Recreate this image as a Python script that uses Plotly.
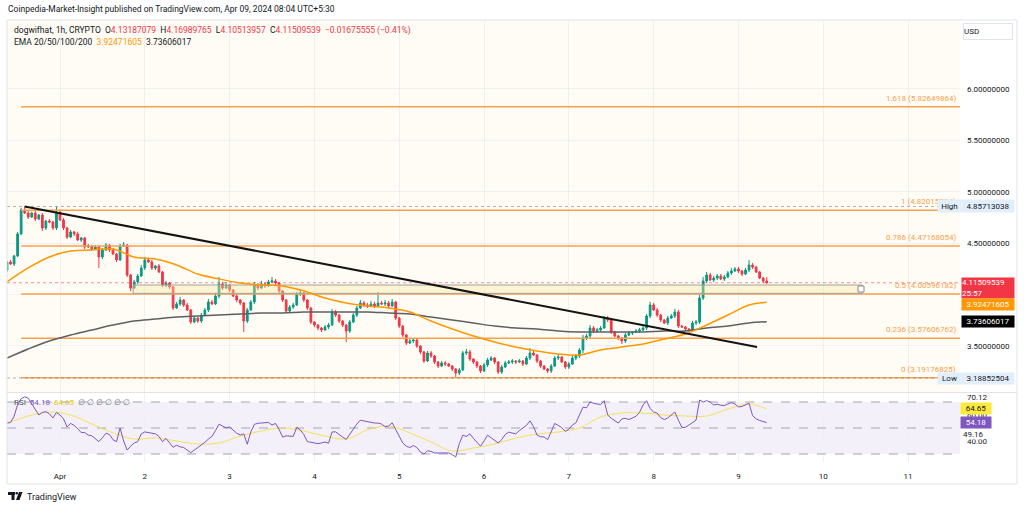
import plotly.graph_objects as go
import pandas as pd

# ---------------- data ----------------
start_time = "2024-03-31 09:00"
first_open = 4.239
closes = [
    4.317, 4.298, 4.376, 4.590, 4.823, 4.794, 4.755, 4.794, 4.735, 4.774, 4.648, 4.716,
    4.706, 4.648, 4.803, 4.726, 4.648, 4.560, 4.609, 4.590, 4.531, 4.551, 4.463, 4.473,
    4.444, 4.463, 4.366, 4.434, 4.482, 4.434, 4.395, 4.337, 4.473, 4.482, 4.191, 4.064,
    4.123, 4.181, 4.259, 4.337, 4.317, 4.259, 4.278, 4.220, 4.093, 4.113, 4.074, 3.870,
    3.909, 3.947, 3.899, 3.850, 3.733, 3.772, 3.743, 3.801, 3.850, 3.928, 3.909, 3.986,
    4.103, 4.064, 4.093, 4.045, 3.986, 3.947, 3.918, 3.743, 3.850, 3.928, 4.093, 4.064,
    4.103, 4.084, 4.123, 4.132, 4.113, 4.035, 3.947, 3.840, 3.879, 3.899, 4.006, 4.016,
    3.947, 3.870, 3.733, 3.704, 3.675, 3.656, 3.685, 3.704, 3.831, 3.801, 3.743, 3.704,
    3.646, 3.733, 3.801, 3.870, 3.918, 3.899, 3.889, 3.909, 3.889, 3.918, 3.909, 3.918,
    3.889, 3.928, 3.772, 3.694, 3.607, 3.529, 3.549, 3.558, 3.500, 3.442, 3.354, 3.432,
    3.403, 3.344, 3.305, 3.335, 3.325, 3.305, 3.276, 3.237, 3.267, 3.432, 3.442, 3.373,
    3.344, 3.305, 3.257, 3.315, 3.364, 3.383, 3.344, 3.247, 3.296, 3.335, 3.344, 3.354,
    3.344, 3.354, 3.325, 3.383, 3.432, 3.412, 3.354, 3.305, 3.276, 3.257, 3.305, 3.383,
    3.393, 3.344, 3.296, 3.325, 3.383, 3.403, 3.461, 3.578, 3.597, 3.675, 3.646, 3.656,
    3.675, 3.772, 3.753, 3.636, 3.597, 3.578, 3.549, 3.607, 3.626, 3.636, 3.646, 3.656,
    3.675, 3.792, 3.899, 3.850, 3.801, 3.753, 3.724, 3.772, 3.792, 3.831, 3.694, 3.685,
    3.665, 3.656, 3.724, 3.733, 3.967, 4.132, 4.191, 4.142, 4.161, 4.181, 4.152, 4.171,
    4.210, 4.230, 4.249, 4.230, 4.200, 4.239, 4.288, 4.268, 4.220, 4.161, 4.13187079, 4.11509539,
]
upper_wick = [
    0.01, 0.02, 0.01, 0.02, 0.02, 0.034, 0.02, 0.01, 0.02, 0.01, 0.02, 0.01,
    0.02, 0.01, 0.054, 0.01, 0.02, 0.01, 0.02, 0.01, 0.02, 0.01, 0.01, 0.02,
    0.01, 0.02, 0.01, 0.02, 0.02, 0.01, 0.02, 0.01, 0.02, 0.03, 0.01, 0.01,
    0.02, 0.02, 0.03, 0.03, 0.02, 0.02, 0.01, 0.02, 0.01, 0.02, 0.01, 0.01,
    0.02, 0.03, 0.01, 0.02, 0.01, 0.02, 0.01, 0.02, 0.02, 0.03, 0.02, 0.03,
    0.068, 0.02, 0.03, 0.01, 0.01, 0.02, 0.01, 0.01, 0.02, 0.02, 0.03, 0.02,
    0.03, 0.02, 0.02, 0.04, 0.02, 0.01, 0.01, 0.01, 0.02, 0.02, 0.02, 0.03,
    0.01, 0.01, 0.01, 0.01, 0.01, 0.01, 0.02, 0.02, 0.03, 0.02, 0.01, 0.01,
    0.01, 0.02, 0.02, 0.02, 0.03, 0.02, 0.02, 0.03, 0.02, 0.107, 0.02, 0.03,
    0.02, 0.03, 0.01, 0.01, 0.01, 0.01, 0.02, 0.02, 0.01, 0.01, 0.01, 0.02,
    0.02, 0.01, 0.01, 0.02, 0.02, 0.01, 0.01, 0.01, 0.02, 0.02, 0.03, 0.02,
    0.01, 0.01, 0.01, 0.02, 0.02, 0.02, 0.01, 0.01, 0.02, 0.02, 0.02, 0.02,
    0.01, 0.02, 0.01, 0.02, 0.048, 0.02, 0.01, 0.01, 0.01, 0.01, 0.02, 0.02,
    0.02, 0.01, 0.01, 0.02, 0.02, 0.02, 0.02, 0.03, 0.02, 0.03, 0.02, 0.02,
    0.02, 0.02, 0.02, 0.01, 0.01, 0.01, 0.01, 0.02, 0.02, 0.01, 0.02, 0.02,
    0.02, 0.02, 0.03, 0.02, 0.02, 0.01, 0.01, 0.02, 0.02, 0.03, 0.02, 0.01,
    0.01, 0.01, 0.02, 0.02, 0.03, 0.04, 0.03, 0.02, 0.02, 0.02, 0.02, 0.02,
    0.02, 0.03, 0.02, 0.02, 0.01, 0.02, 0.049, 0.02, 0.01, 0.01, 0.01, 0.038,
]
lower_wick = [
    0.02, 0.01, 0.02, 0.01, 0.01, 0.01, 0.02, 0.01, 0.02, 0.01, 0.03, 0.02,
    0.01, 0.02, 0.02, 0.01, 0.02, 0.02, 0.01, 0.02, 0.01, 0.02, 0.02, 0.01,
    0.02, 0.01, 0.107, 0.02, 0.01, 0.02, 0.01, 0.02, 0.01, 0.01, 0.02, 0.03,
    0.01, 0.02, 0.01, 0.02, 0.01, 0.02, 0.02, 0.01, 0.02, 0.02, 0.02, 0.02,
    0.01, 0.02, 0.02, 0.01, 0.02, 0.01, 0.02, 0.02, 0.01, 0.02, 0.01, 0.01,
    0.02, 0.02, 0.01, 0.02, 0.01, 0.02, 0.02, 0.107, 0.02, 0.01, 0.02, 0.02,
    0.01, 0.02, 0.01, 0.01, 0.02, 0.02, 0.02, 0.02, 0.01, 0.02, 0.01, 0.02,
    0.02, 0.02, 0.02, 0.02, 0.02, 0.02, 0.01, 0.02, 0.01, 0.02, 0.02, 0.02,
    0.107, 0.02, 0.01, 0.02, 0.01, 0.02, 0.02, 0.01, 0.02, 0.01, 0.01, 0.02,
    0.02, 0.01, 0.02, 0.02, 0.02, 0.02, 0.01, 0.02, 0.02, 0.02, 0.02, 0.01,
    0.02, 0.02, 0.02, 0.01, 0.02, 0.01, 0.02, 0.048, 0.02, 0.01, 0.02, 0.02,
    0.02, 0.02, 0.02, 0.01, 0.02, 0.01, 0.02, 0.02, 0.02, 0.01, 0.01, 0.02,
    0.02, 0.01, 0.02, 0.01, 0.02, 0.01, 0.02, 0.02, 0.01, 0.02, 0.02, 0.01,
    0.02, 0.01, 0.02, 0.02, 0.01, 0.02, 0.02, 0.03, 0.02, 0.02, 0.02, 0.01,
    0.02, 0.01, 0.02, 0.02, 0.01, 0.02, 0.03, 0.02, 0.01, 0.02, 0.01, 0.02,
    0.01, 0.02, 0.02, 0.01, 0.02, 0.02, 0.01, 0.02, 0.01, 0.02, 0.02, 0.01,
    0.02, 0.02, 0.01, 0.02, 0.02, 0.02, 0.02, 0.01, 0.02, 0.02, 0.01, 0.02,
    0.01, 0.02, 0.01, 0.02, 0.02, 0.01, 0.02, 0.02, 0.01, 0.01, 0.02, 0.010,
]
# EMA values read every 6 candles (plus the last candle)
ema_step = 6
ema_orange = [4.123, 4.259, 4.366, 4.424, 4.434, 4.444, 4.366, 4.346, 4.288, 4.200, 4.152, 4.113,
              4.093, 4.084, 4.035, 3.967, 3.918, 3.889, 3.870, 3.831, 3.743, 3.665, 3.597, 3.539,
              3.490, 3.451, 3.422, 3.412, 3.461, 3.490, 3.519, 3.568, 3.617, 3.704, 3.801, 3.899,
              3.92471605]
ema_grey = [3.383, 3.471, 3.549, 3.607, 3.656, 3.704, 3.743, 3.762, 3.782, 3.792, 3.801, 3.811,
            3.821, 3.821, 3.831, 3.831, 3.831, 3.831, 3.821, 3.811, 3.782, 3.753, 3.724, 3.694,
            3.675, 3.665, 3.646, 3.636, 3.636, 3.636, 3.636, 3.646, 3.646, 3.675, 3.694, 3.724,
            3.73606017]
rsi = [
    53.8, 54.2, 59, 68, 72.5, 74, 73, 69, 64, 60, 62, 62.5,
    61, 57.7, 62, 60, 57, 50.8, 53.5, 52, 49.5, 46.5, 46.5, 44.5,
    44, 41.5, 39.5, 42.5, 46, 45, 41, 39.5, 50, 40, 33, 36,
    38.5, 39.5, 45.5, 47, 46.5, 46.2, 45.5, 43.5, 39.5, 42, 39, 35.2,
    36.8, 35.5, 35, 33, 31, 33, 35, 36.5, 39, 41.5, 43.5, 48,
    53, 51.5, 50.2, 50.8, 48, 46, 44.6, 45.5, 37.5, 47, 52.8, 53.7,
    53.8, 54.2, 54.3, 52.3, 53.5, 49, 43, 44, 44, 43.5, 50.5, 48.5,
    45, 39.5, 39, 38.6, 38, 38.5, 39.2, 38.3, 47, 47, 45.3, 43,
    41.2, 45, 49.5, 53, 56, 55.5, 54.5, 54, 53.8, 53.8, 53, 51,
    51.5, 54, 49, 44, 38.5, 36, 35, 36.5, 35, 31.5, 30, 32.5,
    32, 30.8, 30.8, 31, 30.8, 30.8, 29.5, 27.7, 38, 44.5, 43.5, 45.5,
    42, 39.3, 36, 40, 44.5, 42.5, 40.5, 38.5, 41, 45, 46.8, 46.2,
    45.5, 48, 50, 52, 55.5, 51, 44.6, 43.3, 43.1, 41, 47, 53.5,
    52, 50.2, 47.5, 49, 52.3, 54, 60, 66, 65.5, 70, 69, 68.3,
    68, 71, 60, 57.5, 55.5, 53.8, 57, 57.5, 56.5, 57.5, 59, 62,
    67.7, 71, 65, 62.3, 61.5, 58, 56.5, 57.7, 60, 62.3, 56, 50.5,
    50.5, 52.5, 54, 56, 71.5, 70, 71, 70, 67.7, 68.3, 67.5, 67.2,
    68.5, 69.5, 68.5, 66.2, 66.6, 68, 69, 59.5, 57, 55.8, 55, 54.18,
]
rsi_ma = [53.8, 59.2, 62.3, 60, 53.1, 46.2, 41.5, 42.3, 40, 37.7, 38.5, 43.8,
          47.7, 50, 47.7, 43.8, 41.5, 48.5, 51.5, 46.2, 39.2, 32.3, 34.6, 37.7,
          42.3, 45.4, 46.9, 50, 58.5, 61.5, 61.5, 60, 59.2, 59.2, 64.6, 68.5, 64.65]

fib_ratios = ["0", "0.236", "0.5", "0.786", "1", "1.618"]
fib_prices = [3.19176825, 3.57606762, 4.00596182, 4.47168054, 4.82015524, 5.82649864]
fib_start = "2024-03-31 13:00"

trend_times = ["2024-03-31 14:00", "2024-04-09 05:15"]
trend_prices = [4.857, 3.490]

box_times = ["2024-04-01 20:40", "2024-04-10 11:00"]
box_prices = [4.012, 4.093]

price_ticks = [3.5, 4.0, 4.5, 5.0, 5.5, 6.0]
price_tick_labels = ["3.50000000", "", "4.50000000", "5.00000000", "5.50000000", "6.00000000"]
rsi_ticks = [40, 60]
day_ticks = ["2024-04-%02d" % d for d in range(1, 12)]
day_labels = ["Apr", "2", "3", "4", "5", "6", "7", "8", "9", "10", "11"]

high_price = 4.85713038
low_price = 3.18852504
last_open, last_high, last_low, last_close = 4.13187079, 4.16989765, 4.10513957, 4.11509539
change, change_pct = -0.01675555, -0.41

# ---------------- derived ----------------
times = pd.date_range(start_time, periods=len(closes), freq="h")
opens = [first_open] + closes[:-1]
highs = [max(o, c) + u for o, c, u in zip(opens, closes, upper_wick)]
lows = [min(o, c) - d for o, c, d in zip(opens, closes, lower_wick)]
ema_idx = list(range(0, len(closes), ema_step)) + [len(closes) - 1]
ema_times = [times[i] for i in ema_idx]
x_range = ["2024-03-31 09:00", "2024-04-11 14:42"]

W, H = 1024, 509
def xp(px): return px / W
def yp(py): return 1 - py / H

FONT = "Roboto"
TXT = "#131722"
UP, DOWN = "#089981", "#f23645"
ORANGE = "#ff9800"
FIBC = "#f9a04b"

main_dom = [yp(392), yp(20)]
rsi_dom = [yp(462), yp(393)]
x_dom = [xp(7), xp(960)]

fig = go.Figure()
# fib lines, box and horizontal price lines drawn as data traces under the candles
for p in fib_prices:
    fig.add_trace(go.Scatter(x=[fib_start, x_range[1]], y=[p, p], mode="lines", line=dict(color=FIBC, width=1.5),
                             xaxis="x", yaxis="y", showlegend=False, hoverinfo="skip"))
fig.add_trace(go.Scatter(x=[box_times[0], box_times[1], box_times[1], box_times[0], box_times[0]],
                         y=[box_prices[0], box_prices[0], box_prices[1], box_prices[1], box_prices[0]],
                         mode="lines", fill="toself", fillcolor="rgba(255,232,150,0.38)",
                         line=dict(color="#a0a0a0", width=1), xaxis="x", yaxis="y", showlegend=False, hoverinfo="skip"))
fig.add_trace(go.Scatter(x=[x_range[0], x_range[1]], y=[last_close, last_close], mode="lines",
                         line=dict(color="rgba(242,54,69,0.55)", width=1, dash="dot"),
                         xaxis="x", yaxis="y", showlegend=False, hoverinfo="skip"))
for p in [high_price, low_price]:
    fig.add_trace(go.Scatter(x=[x_range[0], x_range[1]], y=[p, p], mode="lines",
                             line=dict(color="rgba(120,123,134,0.6)", width=1, dash="dot"),
                             xaxis="x", yaxis="y", showlegend=False, hoverinfo="skip"))
fig.add_trace(go.Candlestick(
    x=times, open=opens, high=highs, low=lows, close=closes,
    increasing=dict(line=dict(color=UP, width=1), fillcolor=UP),
    decreasing=dict(line=dict(color=DOWN, width=1), fillcolor=DOWN),
    whiskerwidth=0, xaxis="x", yaxis="y", showlegend=False, hoverinfo="skip"))
fig.add_trace(go.Scatter(x=ema_times, y=ema_grey, mode="lines", line=dict(color="#5d5f66", width=1.5, shape="spline"),
                         xaxis="x", yaxis="y", showlegend=False, hoverinfo="skip"))
fig.add_trace(go.Scatter(x=ema_times, y=ema_orange, mode="lines", line=dict(color=ORANGE, width=1.5, shape="spline"),
                         xaxis="x", yaxis="y", showlegend=False, hoverinfo="skip"))
fig.add_trace(go.Scatter(x=trend_times, y=trend_prices, mode="lines", line=dict(color="#131313", width=2),
                         xaxis="x", yaxis="y", showlegend=False, hoverinfo="skip"))
# RSI pane
for lv in [70, 50, 30]:
    fig.add_trace(go.Scatter(x=[x_range[0], x_range[1]], y=[lv, lv], mode="lines",
                             line=dict(color="#a3a6af", width=1, dash="dash"),
                             xaxis="x2", yaxis="y2", showlegend=False, hoverinfo="skip"))
fig.add_trace(go.Scatter(x=ema_times, y=rsi_ma, mode="lines", line=dict(color="#f9e05a", width=1, shape="spline"),
                         xaxis="x2", yaxis="y2", showlegend=False, hoverinfo="skip"))
fig.add_trace(go.Scatter(x=times, y=rsi, mode="lines", line=dict(color="#7e57c2", width=1),
                         xaxis="x2", yaxis="y2", showlegend=False, hoverinfo="skip"))

shapes = []
shapes.append(dict(type="rect", xref="paper", yref="paper", x0=x_dom[0], x1=x_dom[1], y0=main_dom[0], y1=main_dom[1],
                   fillcolor="#fffcf5", line=dict(width=0), layer="below"))
shapes.append(dict(type="rect", xref="paper", yref="y2", x0=x_dom[0], x1=x_dom[1], y0=30, y1=70,
                   fillcolor="rgba(126,87,194,0.09)", line=dict(width=0), layer="below"))
shapes.append(dict(type="rect", xref="paper", yref="paper", x0=xp(7), x1=xp(1017), y0=yp(484), y1=yp(20),
                   line=dict(color="#e0e3eb", width=1), fillcolor="rgba(0,0,0,0)", layer="above"))
shapes.append(dict(type="line", xref="paper", yref="paper", x0=xp(7), x1=xp(1017), y0=yp(392.5), y1=yp(392.5),
                   line=dict(color="#e0e3eb", width=1), layer="above"))
# box handle
shapes.append(dict(type="rect", xref="paper", yref="paper", x0=xp(858), x1=xp(864), y0=yp(292), y1=yp(286),
                   line=dict(color="#8a8a8a", width=1), fillcolor="white", layer="above"))
# TradingView logo
shapes.append(dict(type="rect", xref="paper", yref="paper", x0=xp(8), x1=xp(15), y0=yp(495), y1=yp(492),
                   fillcolor=TXT, line=dict(width=0), layer="above"))
shapes.append(dict(type="rect", xref="paper", yref="paper", x0=xp(11.5), x1=xp(14.5), y0=yp(500), y1=yp(492),
                   fillcolor=TXT, line=dict(width=0), layer="above"))
shapes.append(dict(type="circle", xref="paper", yref="paper", x0=xp(15.5), x1=xp(18), y0=yp(494.5), y1=yp(492),
                   fillcolor=TXT, line=dict(width=0), layer="above"))
shapes.append(dict(type="path", xref="paper", yref="paper",
                   path="M %f,%f L %f,%f L %f,%f L %f,%f Z" % (xp(19), yp(492), xp(22.5), yp(492), xp(19.5), yp(500), xp(16), yp(500)),
                   fillcolor=TXT, line=dict(width=0), layer="above"))

ann = []
def add(text, x, y, size=8, color=TXT, xanchor="left", yanchor="middle", yref="paper", **kw):
    ann.append(dict(text=text, x=x, y=y, xref="paper", yref=yref, showarrow=False, xanchor=xanchor, yanchor=yanchor,
                    font=dict(family=FONT, size=size, color=color), **kw))

def red(v): return "<span style='color:%s'>%s</span>" % (DOWN, v)
add("Coinpedia-Market-Insight published on TradingView.com, Apr 09, 2024 08:04 UTC+5:30", xp(6), yp(9), size=8.5)
add("dogwifhat, 1h, CRYPTO  O%s  H%s  L%s  C%s  %s" % (
    red("%.8f" % last_open), red("%.8f" % last_high), red("%.8f" % last_low), red("%.8f" % last_close),
    red("\u2212%.8f (\u2212%.2f%%)" % (abs(change), abs(change_pct)))), xp(12), yp(30.5), size=8.5)
add("EMA 20/50/100/200  <span style='color:%s'>%.8f</span>  %.8f" % (ORANGE, ema_orange[-1], ema_grey[-1]),
    xp(12), yp(42.5), size=8.5)
add("USD", xp(963), yp(31), size=8, width=48, height=15, align="left", bordercolor="#e0e3eb", borderwidth=1,
    borderpad=0, bgcolor="white")
# fib labels
for r, p in zip(fib_ratios, fib_prices):
    add("%s (%.8f)" % (r, p), xp(958), p, size=8, color=FIBC, xanchor="right", yanchor="bottom", yref="y", yshift=2)
# right axis tags
add("High", xp(937), high_price, size=8, width=23, height=12, bgcolor="#e3eefb", yref="y", align="center", borderpad=0)
add("%.8f" % high_price, xp(961), high_price, size=8, width=52, height=12, bgcolor="#e3eefb", yref="y", borderpad=0)
add("Low", xp(937), low_price, size=8, width=23, height=11, bgcolor="#e3eefb", yref="y", align="center", borderpad=0)
add("%.8f" % low_price, xp(961), low_price, size=8, width=52, height=11, bgcolor="#e3eefb", yref="y", borderpad=0)
add("%.8f<br>25:57" % last_close, xp(961), last_close, size=8, color="white", width=52, height=20, bgcolor=DOWN,
    yref="y", yanchor="top", yshift=6, align="left", borderpad=0)
add("%.8f" % ema_orange[-1], xp(961), ema_orange[-1], size=8, color="white", width=52, height=11, bgcolor=ORANGE,
    yref="y", yshift=-2, borderpad=0)
add("%.8f" % ema_grey[-1], xp(961), ema_grey[-1], size=8, color="white", width=52, height=11, bgcolor="#000000",
    yref="y", borderpad=0)
# RSI labels
add("RSI  <span style='color:#7e57c2'>%.2f</span>  <span style='color:#e6c800'>%.2f</span>  "
    "<span style='color:#787b86'>\u2205 \u2205 \u2205 \u2205 \u2205 \u2205</span>" % (rsi[-1], rsi_ma[-1]),
    xp(12), yp(402), size=8, color="#50535e")
add("70.12", xp(965), yp(397), size=8)
add("%.2f" % rsi_ma[-1], xp(960), yp(408.5), size=8, color=TXT, width=30, height=11, bgcolor="#fde93b", borderpad=0,
    align="center")
add("%.2f" % rsi[-1], xp(960), yp(422.5), size=8, color="white", width=30, height=11, bgcolor="#7e57c2", borderpad=0,
    align="center")
add("49.16", xp(962), yp(434.5), size=8, bgcolor="white", borderpad=0)
add("TradingView", xp(25), yp(496.5), size=9)

axis_font = dict(family=FONT, size=8, color=TXT)
fig.update_layout(
    width=W, height=H, margin=dict(l=0, r=0, t=0, b=0),
    paper_bgcolor="white", plot_bgcolor="rgba(0,0,0,0)", showlegend=False,
    xaxis=dict(domain=x_dom, range=x_range, anchor="y", showticklabels=False, tickvals=day_ticks,
               showgrid=True, gridcolor="#eef0f5", gridwidth=1, zeroline=False, rangeslider=dict(visible=False),
               showline=False, fixedrange=True),
    xaxis2=dict(domain=x_dom, range=x_range, anchor="y2", tickvals=day_ticks, ticktext=day_labels,
                showgrid=True, gridcolor="#eef0f5", gridwidth=1, zeroline=False, ticks="", ticklabelstandoff=8,
                tickfont=axis_font, showline=False, fixedrange=True),
    yaxis=dict(domain=main_dom, range=[3.0525, 6.671], anchor="x", side="right", tickvals=price_ticks,
               ticktext=price_tick_labels, showgrid=True, gridcolor="#eef0f5", zeroline=False,
               ticks="", ticklabelstandoff=6, tickfont=axis_font, showline=False, fixedrange=True),
    yaxis2=dict(domain=rsi_dom, range=[23.85, 76.92], anchor="x2", side="right", tickvals=rsi_ticks,
                ticktext=["%.2f" % v for v in rsi_ticks], showgrid=True, gridcolor="#eef0f5", zeroline=False,
                ticks="", ticklabelstandoff=6, tickfont=axis_font, showline=False, fixedrange=True),
    shapes=shapes, annotations=ann,
)
fig.write_html("out.html")
